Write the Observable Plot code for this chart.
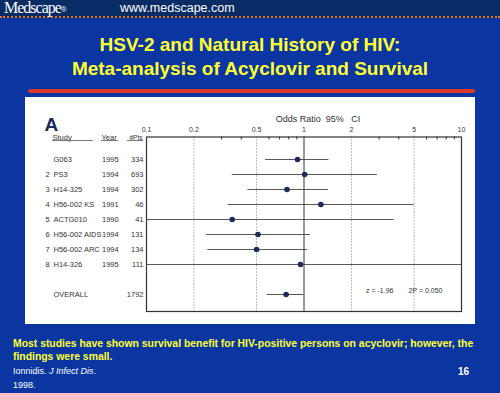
<!DOCTYPE html>
<html><head><meta charset="utf-8">
<script src="https://cdn.jsdelivr.net/npm/d3@7"></script>
<script src="https://cdn.jsdelivr.net/npm/@observablehq/plot@0.6"></script>
<style>
html,body{margin:0;padding:0;background:#0b36a2;}
#slide{position:relative;width:500px;height:393px;background:#0b36a2;overflow:hidden;font-family:"Liberation Sans",Arial,sans-serif;}
#topbar{position:absolute;left:0;top:0;width:500px;height:16px;background:#0a2c66;border-bottom:2px dotted #e0782c;}
#brand{position:absolute;left:4px;top:0px;height:16px;line-height:15px;font-family:"Liberation Serif","DejaVu Serif",serif;font-size:16px;color:#fff;letter-spacing:-1px;white-space:nowrap;}
#brand span{font-size:8px;letter-spacing:0;font-family:"Liberation Sans",Arial,sans-serif;vertical-align:1px;}
#url{position:absolute;left:120px;top:0px;line-height:16px;font-size:12.5px;color:#fff;white-space:nowrap;}
#title{position:absolute;left:0;width:500px;top:33px;text-align:center;color:#ffff33;font-weight:bold;font-size:19px;line-height:24px;}
#redline{position:absolute;left:28px;top:89px;width:447px;height:4px;background:#d8392b;border-radius:2px;}
#panel{position:absolute;left:25px;top:97px;width:450px;height:227px;background:#fff;}
#panel svg{display:block;}
#caption{position:absolute;left:13px;top:338px;width:485px;color:#ffff33;font-weight:bold;font-size:10.4px;line-height:12.5px;white-space:nowrap;}
#cite{position:absolute;left:13px;top:365px;color:#fff;font-size:9px;line-height:13.5px;}
#page{position:absolute;left:458px;top:366px;color:#fff;font-weight:bold;font-size:10px;}
</style>
</head>
<body>
<div id="slide">
  <div id="topbar"><div id="brand">Medscape<span>®</span></div><div id="url">www.medscape.com</div></div>
  <div id="title">HSV-2 and Natural History of HIV:<br>Meta-analysis of Acyclovir and Survival</div>
  <div id="redline"></div>
  <div id="panel"></div>
  <div id="caption">Most studies have shown survival benefit for HIV-positive persons on acyclovir; however, the<br>findings were small.</div>
  <div id="cite">Ionnidis. <i>J Infect Dis</i>.<br>1998.</div>
  <div id="page">16</div>
</div>
<script>
// ---- data ----
const studyNumbers = ["", "2", "3", "4", "5", "6", "7", "8", ""];
const studyNames = ["G063", "PS3", "H14-325", "H56-002 KS", "ACTG010", "H56-002 AIDS", "H56-002 ARC", "H14-326", "OVERALL"];
const years = ["1995", "1994", "1994", "1991", "1990", "1994", "1994", "1995", ""];
const patients = ["334", "693", "302", "46", "41", "131", "134", "111", "1792"];
const oddsRatios = [0.91, 1.01, 0.78, 1.28, 0.35, 0.51, 0.50, 0.95, 0.77];
const ciLower = [0.57, 0.35, 0.44, 0.33, 0.07, 0.24, 0.245, 0.07, 0.585];
const ciUpper = [1.44, 2.92, 1.43, 5.0, 3.73, 1.10, 1.05, 14, 1.0];
const xTicks = [0.1, 0.2, 0.5, 1, 2, 5, 10];
const minorTicks = [0.3, 0.4, 0.6, 0.7, 0.8, 0.9, 3, 4, 6, 7, 8, 9];
const gridValues = [0.2, 0.5, 2, 5];
const headers = ["Study", "Year", "#Pts"];
const axisTitle = "Odds Ratio  95%   CI";
const zText = "z = -1.96";
const pText = "2P = 0.050";

const rows = studyNames.map((name, i) => ({
  key: name, num: studyNumbers[i], name, year: years[i], pts: patients[i],
  or: oddsRatios[i], lo: ciLower[i], hi: ciUpper[i]
}));
const yDomain = [...studyNames.slice(0, 8), " ", "OVERALL"];
const ink = "#333";
const fs = 7.5;

const chart = Plot.plot({
  width: 450, height: 227,
  marginLeft: 121, marginRight: 14, marginTop: 39.5, marginBottom: 13,
  style: {background: "white", fontFamily: "'Liberation Sans', Arial, sans-serif", color: ink, overflow: "visible"},
  x: {type: "log", domain: [0.1, 10], axis: null},
  y: {type: "point", domain: yDomain, range: [58, 200], padding: 0, axis: null},
  marks: [
    Plot.ruleX(gridValues, {stroke: "#777", strokeDasharray: "1,2"}),
    Plot.ruleX([1], {stroke: ink, strokeWidth: 1}),
    Plot.ruleX(minorTicks, {stroke: ink, insetBottom: 171.5}),
    Plot.frame({stroke: ink, strokeWidth: 1.2}),
    Plot.axisX({ticks: xTicks, anchor: "top", tickSize: 0, tickPadding: 5, tickFormat: d => `${d}`, fontSize: 7, fill: ink, label: null}),
    Plot.ruleY(rows, {y: "key", x1: "lo", x2: "hi", stroke: "#444", strokeWidth: 0.9, clip: true}),
    Plot.dot(rows, {x: "or", y: "key", r: 2.8, fill: "#1b2b5c", stroke: "none"}),
    Plot.text(rows, {y: "key", text: "num", frameAnchor: "left", dx: -101, textAnchor: "start", fontSize: fs, fill: ink}),
    Plot.text(rows, {y: "key", text: "name", frameAnchor: "left", dx: -93, textAnchor: "start", fontSize: fs, fill: ink}),
    Plot.text(rows, {y: "key", text: "year", frameAnchor: "left", dx: -44.5, textAnchor: "start", fontSize: fs, fill: ink}),
    Plot.text(rows, {y: "key", text: "pts", frameAnchor: "left", dx: -3, textAnchor: "end", fontSize: fs, fill: ink}),
    Plot.text([headers[0]], {text: d => d, frameAnchor: "top-left", dx: -94, dy: -2, textAnchor: "start", fontSize: fs, fill: ink}),
    Plot.text([headers[1]], {text: d => d, frameAnchor: "top-left", dx: -45, dy: -2, textAnchor: "start", fontSize: fs, fill: ink}),
    Plot.text([headers[2]], {text: d => d, frameAnchor: "top-left", dx: -4, dy: -2, textAnchor: "end", fontSize: 6.5, fill: ink}),
    Plot.text(["A"], {text: d => d, frameAnchor: "top-left", dx: -102, dy: -6.5, lineAnchor: "bottom", textAnchor: "start", fontSize: 19, fontWeight: "bold", fill: "#1b2b5c"}),
    Plot.text([axisTitle], {text: d => d, frameAnchor: "top", dx: 14, dy: -21.5, fontSize: 9, fill: ink}),
    Plot.text([zText], {text: d => d, frameAnchor: "bottom-right", dx: -68, dy: -19, textAnchor: "end", fontSize: 7, fill: ink}),
    Plot.text([pText], {text: d => d, frameAnchor: "bottom-right", dx: -19, dy: -19, textAnchor: "end", fontSize: 7, fill: ink})
  ]
});

// header underlines (relative to frame left edge)
const svg = d3.select(chart.tagName === "svg" ? chart : chart.querySelector("svg"));
const fl = 121, uy = 43.5;
[[-94, -53], [-45, -28], [-19, -3]].forEach(([a, b]) => {
  svg.append("line").attr("x1", fl + a).attr("x2", fl + b).attr("y1", uy).attr("y2", uy)
    .attr("stroke", "#555").attr("stroke-width", 0.8);
});
document.getElementById("panel").appendChild(chart);
</script>
</body></html>
